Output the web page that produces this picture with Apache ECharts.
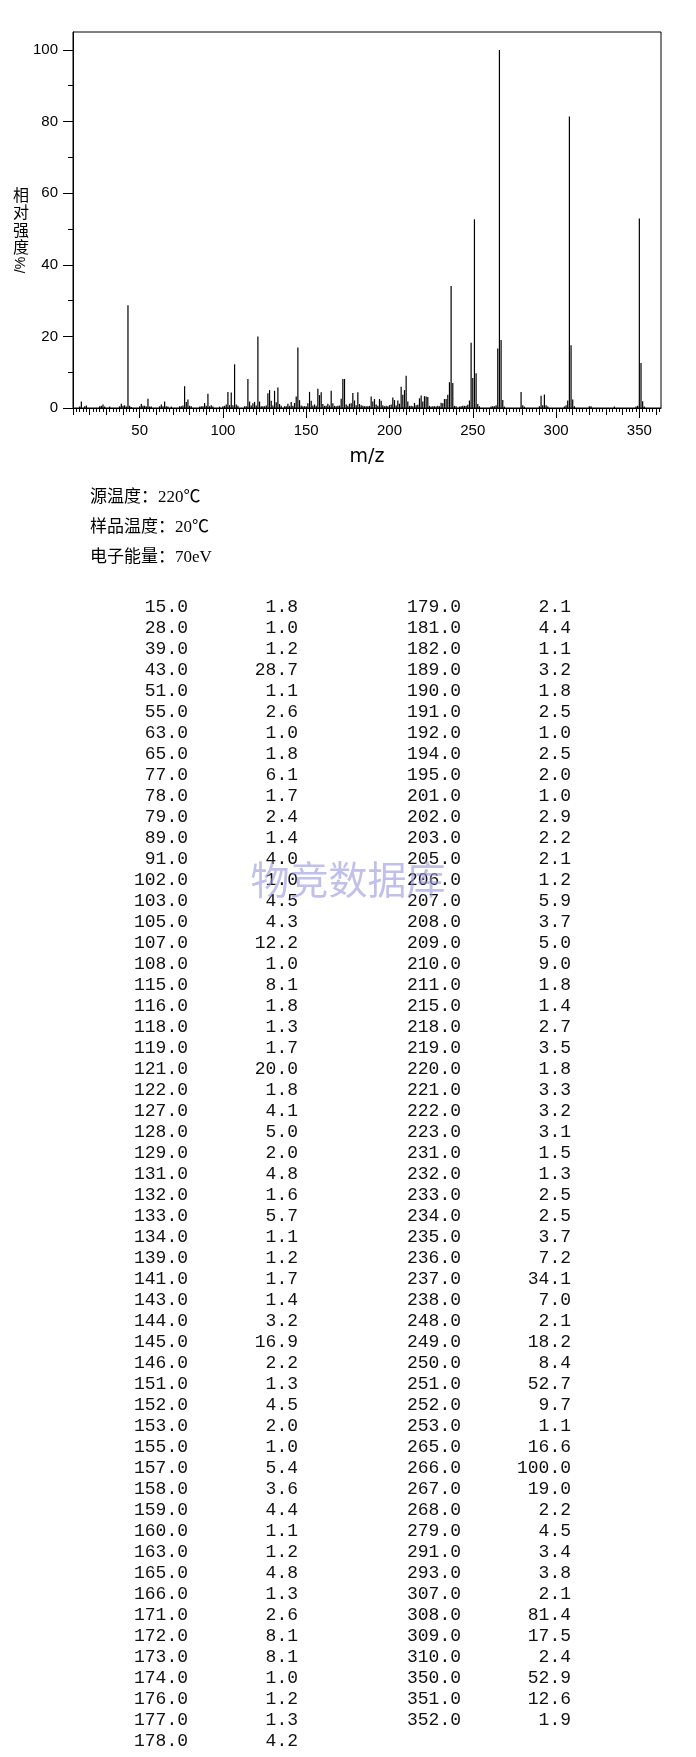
<!DOCTYPE html>
<html><head><meta charset="utf-8">
<script src="https://cdn.jsdelivr.net/npm/echarts@6/dist/echarts.min.js"></script>
<style>html,body{margin:0;padding:0;background:#fff}#c{width:696px;height:1757px}</style>
</head><body><div id="c"></div>
<script>
// Main peaks (table values)
const peakMz = [15,28,39,43,51,55,63,65,77,78,79,89,91,102,103,105,107,108,115,116,118,119,121,122,127,128,129,131,132,133,134,139,141,143,144,145,146,151,152,153,155,157,158,159,160,163,165,166,171,172,173,174,176,177,178,
  179,181,182,189,190,191,192,194,195,201,202,203,205,206,207,208,209,210,211,215,218,219,220,221,222,223,231,232,233,234,235,236,237,238,248,249,250,251,252,253,265,266,267,268,279,291,293,307,308,309,310,350,351,352];
const peakIntensity = [1.8,1.0,1.2,28.7,1.1,2.6,1.0,1.8,6.1,1.7,2.4,1.4,4.0,1.0,4.5,4.3,12.2,1.0,8.1,1.8,1.3,1.7,20.0,1.8,4.1,5.0,2.0,4.8,1.6,5.7,1.1,1.2,1.7,1.4,3.2,16.9,2.2,1.3,4.5,2.0,1.0,5.4,3.6,4.4,1.1,1.2,4.8,1.3,2.6,8.1,8.1,1.0,1.2,1.3,4.2,
  2.1,4.4,1.1,3.2,1.8,2.5,1.0,2.5,2.0,1.0,2.9,2.2,2.1,1.2,5.9,3.7,5.0,9.0,1.8,1.4,2.7,3.5,1.8,3.3,3.2,3.1,1.5,1.3,2.5,2.5,3.7,7.2,34.1,7.0,2.1,18.2,8.4,52.7,9.7,1.1,16.6,100.0,19.0,2.2,4.5,3.4,3.8,2.1,81.4,17.5,2.4,52.9,12.6,1.9];
// Small peaks (< 1 %)
const minorPeakMz = [14,17,18,26,27,29,32,38,40,41,42,44,45,50,52,53,54,56,57,62,64,66,67,69,74,75,76,80,81,86,87,88,90,92,93,94,98,100,101,104,106,109,113,114,117,120,123,124,125,126,130,135,137,138,140,142,147,148,149,150,154,156,161,162,164,167,168,169,170,175,180,183,184,185,186,187,188,193,196,197,198,199,200,204,212,213,214,216,217,224,225,226,227,228,229,230,239,240,242,243,244,245,246,247,254,261,262,263,264,269,280,281,290,292,294,295,305,306,311,320,321,335,348,349,353];
const minorPeakIntensity = [0.4,0.5,0.7,0.5,0.6,0.4,0.4,0.5,0.6,0.8,0.4,0.6,0.3,0.5,0.6,0.6,0.4,0.4,0.4,0.5,0.5,0.5,0.4,0.4,0.5,0.5,0.7,0.6,0.5,0.4,0.5,0.5,0.6,0.5,0.8,0.4,0.4,0.5,0.6,0.8,0.8,0.6,0.5,0.5,0.7,0.7,0.5,0.5,0.5,0.7,0.7,0.6,0.5,0.5,0.6,0.6,0.7,0.5,0.5,0.5,0.7,0.6,0.6,0.6,0.7,0.6,0.5,0.6,0.7,0.6,0.8,0.8,0.6,0.5,0.5,0.5,0.6,0.6,0.8,0.5,0.6,0.5,0.8,0.7,0.6,0.6,0.5,0.8,0.9,0.6,0.4,0.5,0.5,0.4,0.6,0.5,0.6,0.5,0.4,0.5,0.6,0.6,0.6,0.9,0.5,0.4,0.5,0.5,0.8,0.4,0.8,0.4,0.5,0.8,0.8,0.4,0.4,0.8,0.5,0.5,0.5,0.4,0.4,0.6,0.4];
const xTickLabels = [50,100,150,200,250,300,350];
const yTickLabels = [0,20,40,60,80,100];
const yMinorTicks = [10,30,50,70,90];
const xTitle = 'm/z';
const yTitleChars = '相\n对\n强\n度';
const yTitleUnit = '/%';
const conditions = ['源温度：220℃','样品温度：20℃','电子能量：70eV'];
const watermark = '物竞数据库';
const leftRows = 55;

const X_MIN = 10, X_MAX = 363;
const xMid = []; for (let v = 10; v <= 360; v += 10) xMid.push(v);
const xSmall = []; for (let v = 10; v <= 362; v += 2) xSmall.push(v);

const barData = [];
peakMz.forEach((m, i) => barData.push([m, peakIntensity[i]]));
minorPeakMz.forEach((m, i) => barData.push([m, minorPeakIntensity[i]]));
barData.sort((a, b) => a[0] - b[0]);

const monoFont = '18px "Liberation Mono", monospace';
const graphics = [];
// y-axis title
graphics.push({type:'text', x:21, y:186, style:{text:yTitleChars, font:'16px "Noto Sans CJK SC"', fill:'#000', align:'center', verticalAlign:'top', lineHeight:17.5}});
graphics.push({type:'text', x:21, y:265, rotation:Math.PI/2, style:{text:yTitleUnit, font:'14px "Liberation Sans"', fill:'#000', align:'center', verticalAlign:'middle'}});
// x title
graphics.push({type:'text', x:367, y:457, style:{text:xTitle, font:'19px "DejaVu Sans"', fill:'#000', align:'center', verticalAlign:'middle'}});
// conditions
conditions.forEach((t, i) => {
  graphics.push({type:'text', x:90, y:498 + i*30, style:{text:t, font:'17px "Liberation Serif", "Noto Sans CJK SC"', fill:'#000', align:'left', verticalAlign:'middle'}});
});
// table
peakMz.forEach((m, i) => {
  const col = i < leftRows ? 0 : 1;
  const row = col === 0 ? i : i - leftRows;
  const y = 607 + row * 21;
  const xm = col === 0 ? 188 : 461;
  const xv = col === 0 ? 298 : 571;
  graphics.push({type:'text', x:xm, y:y, style:{text:m.toFixed(1), font:monoFont, fill:'#111', align:'right', verticalAlign:'middle'}});
  graphics.push({type:'text', x:xv, y:y, style:{text:peakIntensity[i].toFixed(1), font:monoFont, fill:'#111', align:'right', verticalAlign:'middle'}});
});
// watermark
graphics.push({type:'text', x:348, y:879, z:100, style:{text:watermark, font:'39px "Noto Sans CJK SC"', fill:'rgba(150,150,220,0.6)', align:'center', verticalAlign:'middle'}});

const axisCommonX = {type:'value', min:X_MIN, max:X_MAX, position:'bottom', splitLine:{show:false}};
const chart = echarts.init(document.getElementById('c'), null, {renderer:'canvas'});
chart.setOption({
  animation:false,
  backgroundColor:'#fff',
  grid:{left:73, top:32, width:588, height:376, show:true, borderColor:'#000', borderWidth:1, backgroundColor:'transparent'},
  xAxis:[
    Object.assign({}, axisCommonX, {
      axisLine:{show:true, onZero:false, lineStyle:{color:'#000', width:1}},
      axisTick:{show:true, length:10, customValues:xTickLabels, lineStyle:{color:'#000'}},
      axisLabel:{show:true, customValues:xTickLabels, margin:15, color:'#000', fontSize:15, fontFamily:'Liberation Sans'}
    }),
    Object.assign({}, axisCommonX, {
      axisLine:{show:false, onZero:false},
      axisTick:{show:true, length:7, customValues:xMid, lineStyle:{color:'#000'}},
      axisLabel:{show:false}
    }),
    Object.assign({}, axisCommonX, {
      axisLine:{show:false, onZero:false},
      axisTick:{show:true, length:4, customValues:xSmall, lineStyle:{color:'#000'}},
      axisLabel:{show:false}
    })
  ],
  yAxis:[
    {type:'value', min:0, max:105, position:'left', splitLine:{show:false},
      axisLine:{show:true, onZero:false, lineStyle:{color:'#000'}},
      axisTick:{show:true, length:10, customValues:yTickLabels, lineStyle:{color:'#000'}},
      axisLabel:{show:true, customValues:yTickLabels, margin:15, color:'#000', fontSize:15, fontFamily:'Liberation Sans'}},
    {type:'value', min:0, max:105, position:'left', splitLine:{show:false},
      axisLine:{show:false, onZero:false},
      axisTick:{show:true, length:5, customValues:yMinorTicks, lineStyle:{color:'#000'}},
      axisLabel:{show:false}}
  ],
  series:[{
    type:'bar', xAxisIndex:0, yAxisIndex:0, data:barData, barWidth:1.2, silent:true,
    itemStyle:{color:'#000'}
  }],
  graphic:{elements:graphics}
});
</script></body></html>
